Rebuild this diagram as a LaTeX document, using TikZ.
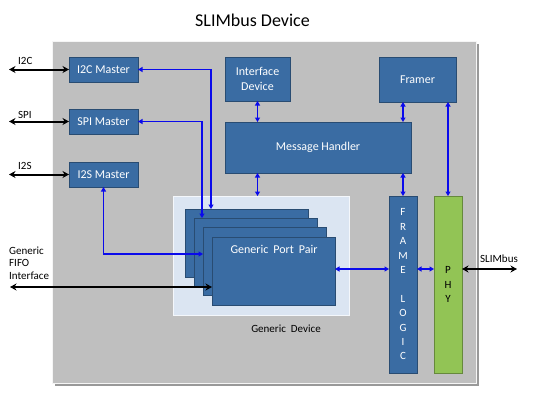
\documentclass[tikz,border=0pt]{standalone}
\usepackage{fontspec}
\setmainfont{Carlito}
\usetikzlibrary{arrows.meta,shadows,calc}
\definecolor{bgray}{RGB}{191,191,191}
\definecolor{bblue}{RGB}{58,108,163}
\definecolor{bgreen}{RGB}{146,196,85}
\definecolor{lblue}{RGB}{219,229,242}
\definecolor{ablue}{RGB}{10,10,235}
\begin{document}
\begin{tikzpicture}[x=1pt,y=-1pt,
  boxshadow/.style={drop shadow={shadow xshift=1.2pt,shadow yshift=-1.4pt,opacity=0.35,fill=black}},
  bluebox/.style={draw=bblue!70!black, line width=0.6pt, fill=bblue, text=white,
    inner sep=0pt, outer sep=0pt, font=\fontsize{12}{15}\selectfont, align=center, boxshadow},
  greenbox/.style={bluebox, fill=bgreen, draw=bgreen!70!black, text=black},
  lightbox/.style={draw=white!70!lblue, line width=1pt, fill=lblue, inner sep=0pt, outer sep=0pt, boxshadow},
  lbl/.style={inner sep=0pt, font=\fontsize{11}{12.7}\selectfont, text=black},
  barrow/.style={draw=ablue, line width=1.3pt, {Triangle[length=4.5pt,width=5pt]}-{Triangle[length=4.5pt,width=5pt]}},
  karrow/.style={draw=black, line width=2pt, {Stealth[length=6.5pt,width=7pt]}-{Stealth[length=6.5pt,width=7pt]}}
]
\useasboundingbox (0,0) rectangle (544,408);
\fill[white] (0,0) rectangle (544,408);
% title
\node[inner sep=0pt, font=\fontsize{18}{20}\selectfont] (title) at (252.5,20) {SLIMbus Device};
% device background
\fill[black!40] (54.5,43.5) rectangle (478.5,385.5);
\node[draw=white!85!bgray, line width=1pt, fill=bgray, inner sep=0pt, minimum width=424pt, minimum height=342pt] (dev) at (264,212) {};
% generic device
\node[lightbox, minimum width=176pt, minimum height=119pt] (gd) at (261,255.5) {};
\node[lbl] (gdl) at (286,329) {Generic\hspace{5pt}Device};
% port pairs
\node[bluebox, minimum width=123pt, minimum height=68pt] (pp1) at (246.5,243) {};
\node[bluebox, minimum width=123pt, minimum height=68pt] (pp2) at (255.5,252) {};
\node[bluebox, minimum width=123pt, minimum height=68pt] (pp3) at (264.5,261) {};
\node[bluebox, minimum width=123pt, minimum height=68pt] (pp4) at (273.5,271) {};
\node[inner sep=0pt, text=white, font=\fontsize{12}{15}\selectfont] (ppl) at (274,249) {Generic\hspace{5pt}Port\hspace{5pt}Pair};
% masters
\node[bluebox, minimum width=69pt, minimum height=25pt] (i2c) at (103.5,69.5) {I2C Master};
\node[bluebox, minimum width=69pt, minimum height=25pt] (spi) at (103.5,121.5) {SPI Master};
\node[bluebox, minimum width=69pt, minimum height=25pt] (i2s) at (103.5,174.5) {I2S Master};
% top blocks
\node[bluebox, minimum width=65pt, minimum height=44pt] (ifd) at (257.5,79) {Interface\\Device};
\node[bluebox, minimum width=77pt, minimum height=45pt] (fr) at (417.5,79.5) {Framer};
\node[bluebox, minimum width=186pt, minimum height=51pt] (mh) at (318,147.5) {Message Handler};
% frame logic and phy
\node[bluebox, minimum width=28pt, minimum height=177pt, font=\fontsize{11}{14.4}\selectfont] (fl) at (403,284.5)
  {F\\R\\A\\M\\E\\[14.4pt]L\\O\\G\\I\\C};
\node[greenbox, minimum width=28pt, minimum height=177pt, font=\fontsize{11}{14.6}\selectfont] (phy) at (448,284.5)
  {P\\H\\Y};
% external labels
\node[lbl, anchor=west] (li2c) at (18,61) {I2C};
\node[lbl, anchor=west] (lspi) at (18,114.5) {SPI};
\node[lbl, anchor=west] (li2s) at (18,166) {I2S};
\node[lbl, anchor=west, align=left] (lfifo) at (9,263) {Generic\\FIFO\\Interface};
\node[lbl] (lslim) at (499,259) {SLIMbus};
% free ends
\coordinate (ei2c) at (9,69.5);
\coordinate (espi) at (9,121.5);
\coordinate (ei2s) at (9,174.5);
\coordinate (efifo) at (10,287);
\coordinate (eslim) at (517,269);
% external black arrows
\draw[karrow] (ei2c) -- (i2c.west);
\draw[karrow] (espi) -- (spi.west);
\draw[karrow] (ei2s) -- (i2s.west);
\draw[karrow] (efifo) -- (efifo -| pp4.west);
\draw[karrow] (phy.east |- eslim) -- (eslim);
% blue internal arrows
\draw[barrow] (i2c.east) -| ([xshift=26pt]pp1.north west);
\draw[barrow] (spi.east) -| ([xshift=8pt]pp2.north west);
\draw[barrow] (i2s.south) |- ([yshift=7pt]pp3.west);
\draw[barrow] (pp4.east |- eslim) -- (fl.west |- eslim);
\draw[barrow] (fl.east |- eslim) -- (phy.west |- eslim);
\draw[barrow] (ifd.south) -- (mh.north -| ifd.south);
\draw[barrow] (mh.south -| ifd.south) -- (gd.north -| ifd.south);
\draw[barrow] (fr.south -| fl.north) -- (mh.north -| fl.north);
\draw[barrow] (mh.south -| fl.north) -- (fl.north);
\draw[barrow] (fr.south -| phy.north) -- (phy.north);
\end{tikzpicture}
\end{document}
